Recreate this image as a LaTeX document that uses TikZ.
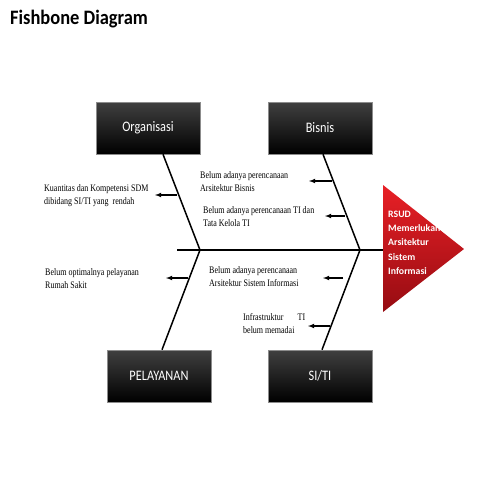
\documentclass[tikz,border=0pt]{standalone}
\usepackage{fontspec}
\setmainfont{Liberation Serif}[FakeStretch=0.8]
\newfontfamily\carlito{Carlito}[FakeStretch=0.85]
\newfontfamily\titlefont{Carlito}[FakeStretch=0.9]
\newfontfamily\carlitohead{Carlito}
\usetikzlibrary{calc}
\tikzset{>=latex}
\definecolor{headtop}{RGB}{232,32,38}
\definecolor{headbot}{RGB}{150,12,18}

\begin{document}
\begin{tikzpicture}[x=1pt, y=-1pt,
  catbox/.style={draw=black!45, line width=0.6pt, top color=black!75, bottom color=black,
    minimum width=104pt, minimum height=52pt, text=white,
    font=\carlito\fontsize{14.5}{16}\selectfont},
  bone/.style={line width=1.5pt},
  note/.style={anchor=west, align=left, inner sep=0pt, font=\fontsize{10}{13}\selectfont},
  cause/.style={->, line width=1.1pt}]
\useasboundingbox (0,0) rectangle (480,480);
\fill[white] (0,0) rectangle (480,480);

\node[anchor=base west, inner sep=0pt, font=\titlefont\bfseries\fontsize{20.5}{24}\selectfont] (title) at (10,24) {Fishbone Diagram};

% category boxes
\node[catbox] (org) at (148,128) {Organisasi};
\node[catbox] (bis) at (320,128) {Bisnis};
\node[catbox] (pel) at (159,376) {PELAYANAN};
\node[catbox] (siti) at (320,376) {SI/TI};

% head
\coordinate (h1) at (383,185);
\coordinate (tip) at (464,249);
\coordinate (h2) at (383,312);
\shade[top color=headtop, bottom color=headbot] (h1) -- (tip) -- (h2) -- cycle;
\node[anchor=north west, align=left, inner sep=0pt, text=white,
  font=\carlitohead\bfseries\fontsize{9.8}{14.3}\selectfont] (goal) at (388,210.5)
  {RSUD\\Memerlukan\\Arsitektur\\Sistem\\Informasi};

% spine and bones
\coordinate (tail) at (177,250);
\coordinate (hd) at (383,250);
\coordinate (j1) at (200,250);
\coordinate (j2) at (360,250);
\draw[bone] (tail) -- (hd);
\draw[bone] ([xshift=15pt]org.south) -- (j1) -- ([xshift=3pt]pel.north);
\draw[bone] ([xshift=3pt]bis.south) -- (j2) -- ([xshift=2pt]siti.north);

% causes
\coordinate (s1) at (177,195); \coordinate (e1) at (155,195);
\coordinate (s2) at (332,181); \coordinate (e2) at (309,181);
\coordinate (s3) at (345,216); \coordinate (e3) at (325,216);
\coordinate (s4) at (188,278); \coordinate (e4) at (166,278);
\coordinate (s5) at (343,278); \coordinate (e5) at (323,278);
\coordinate (s6) at (330,326); \coordinate (e6) at (308,326);
\draw[cause] (s1) -- (e1);
\draw[cause] (s2) -- (e2);
\draw[cause] (s3) -- (e3);
\draw[cause] (s4) -- (e4);
\draw[cause] (s5) -- (e5);
\draw[cause] (s6) -- (e6);

\node[note] (n1) at (44,196) {Kuantitas dan Kompetensi SDM\\dibidang SI/TI yang\ \ rendah};
\node[note] (n2) at (200,182) {Belum adanya perencanaan\\Arsitektur Bisnis};
\node[note] (n3) at (203,217) {Belum adanya perencanaan TI dan\\Tata Kelola TI};
\node[note] (n4) at (45,279) {Belum optimalnya pelayanan\\Rumah Sakit};
\node[note] (n5) at (209,277) {Belum adanya perencanaan\\Arsitektur Sistem Informasi};
\node[note] (n6) at (243,324) {Infrastruktur\hspace{14pt}TI\\belum memadai};
\end{tikzpicture}
\end{document}
